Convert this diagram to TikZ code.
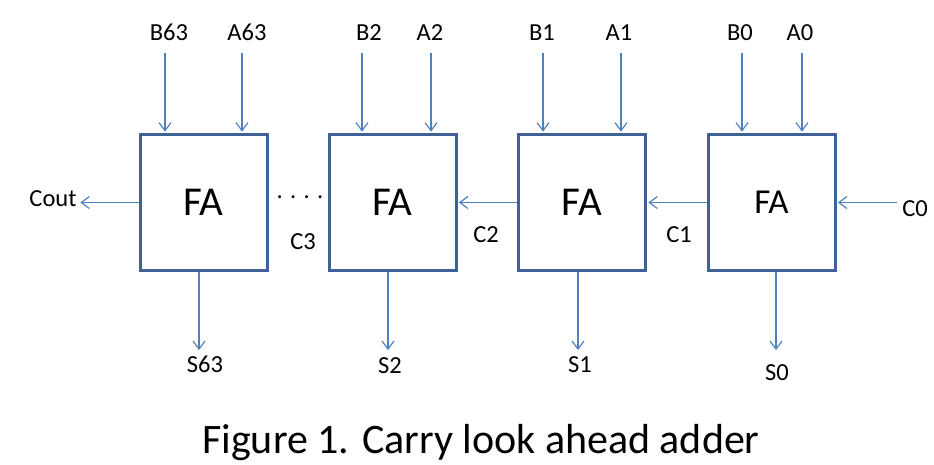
\documentclass[tikz,border=0pt]{standalone}
\usepackage{fontspec}
\setmainfont{Carlito}
\usetikzlibrary{arrows.meta}
\definecolor{boxblue}{RGB}{62,98,150}
\definecolor{wireblue}{RGB}{79,129,189}
\begin{document}
\begin{tikzpicture}[x=1pt,y=-1pt,
  fabox/.style={draw=boxblue, line width=3pt, minimum width=127pt, minimum height=136pt, inner sep=0pt, font=\fontsize{41}{41}\selectfont},
  wire/.style={draw=wireblue, line width=1.2pt, shorten >=1.4pt, -{Straight Barb[length=8pt,width=12pt]}},
  lbl/.style={anchor=base, inner sep=0pt, font=\fontsize{24.5}{24.5}\selectfont},
  captiontext/.style={anchor=base, inner sep=0pt, font=\fontsize{42}{42}\selectfont},
]
\useasboundingbox (0,0) rectangle (934,464);

% full adder boxes
\node[fabox] (fa63) at (203.5,202.5) {FA};
\node[fabox] (fa2)  at (392.5,202.5) {FA};
\node[fabox] (fa1)  at (582,202.5) {FA};
\node[fabox, font=\fontsize{35}{35}\selectfont] (fa0) at (771.5,202.5) {FA};

% input labels
\node[lbl] (lB63) at (169,40) {B63};
\node[lbl] (lA63) at (247,40) {A63};
\node[lbl] (lB2)  at (369,40) {B2};
\node[lbl] (lA2)  at (430,40) {A2};
\node[lbl] (lB1)  at (542,40) {B1};
\node[lbl] (lA1)  at (619,40) {A1};
\node[lbl] (lB0)  at (740,40) {B0};
\node[lbl] (lA0)  at (800,40) {A0};

% input wire starts
\coordinate (iB63) at (165,53);
\coordinate (iA63) at (242,53);
\coordinate (iB2)  at (362,53);
\coordinate (iA2)  at (431,53);
\coordinate (iB1)  at (543,53);
\coordinate (iA1)  at (621,53);
\coordinate (iB0)  at (742,53);
\coordinate (iA0)  at (802,53);

\draw[wire] (iB63) -- (iB63 |- fa63.north);
\draw[wire] (iA63) -- (iA63 |- fa63.north);
\draw[wire] (iB2)  -- (iB2 |- fa2.north);
\draw[wire] (iA2)  -- (iA2 |- fa2.north);
\draw[wire] (iB1)  -- (iB1 |- fa1.north);
\draw[wire] (iA1)  -- (iA1 |- fa1.north);
\draw[wire] (iB0)  -- (iB0 |- fa0.north);
\draw[wire] (iA0)  -- (iA0 |- fa0.north);

% carries
\coordinate (coutEnd) at (79,202.5);
\coordinate (c0Start) at (897,202.5);
\node[lbl] (lCout) at (53,206) {Cout};
\node[lbl] (lC3) at (303,249) {C3};
\node[lbl] (lC2) at (486,242) {C2};
\node[lbl] (lC1) at (679,242) {C1};
\node[lbl] (lC0) at (915,216) {C0};
\node[lbl] (dots) at (300,198) {. . . .};

\draw[wire] (fa63.west) -- (coutEnd);
\draw[wire] (fa1.west) -- (fa2.east);
\draw[wire] (fa0.west) -- (fa1.east);
\draw[wire] (c0Start) -- (fa0.east);

% sum outputs
\coordinate (oS63) at (199,350);
\coordinate (oS2)  at (388,350);
\coordinate (oS1)  at (578,350);
\coordinate (oS0)  at (776,350);
\draw[wire, shorten >=0pt] (oS63 |- fa63.south) -- (oS63);
\draw[wire, shorten >=0pt] (oS2 |- fa2.south) -- (oS2);
\draw[wire, shorten >=0pt] (oS1 |- fa1.south) -- (oS1);
\draw[wire, shorten >=0pt] (oS0 |- fa0.south) -- (oS0);

\node[lbl] (lS63) at (205,372) {S63};
\node[lbl] (lS2)  at (390,373) {S2};
\node[lbl] (lS1)  at (580,372) {S1};
\node[lbl] (lS0)  at (777,380) {S0};

% caption
\node[captiontext] (caption) at (481,453) {Figure 1. Carry look ahead adder};
\end{tikzpicture}
\end{document}
